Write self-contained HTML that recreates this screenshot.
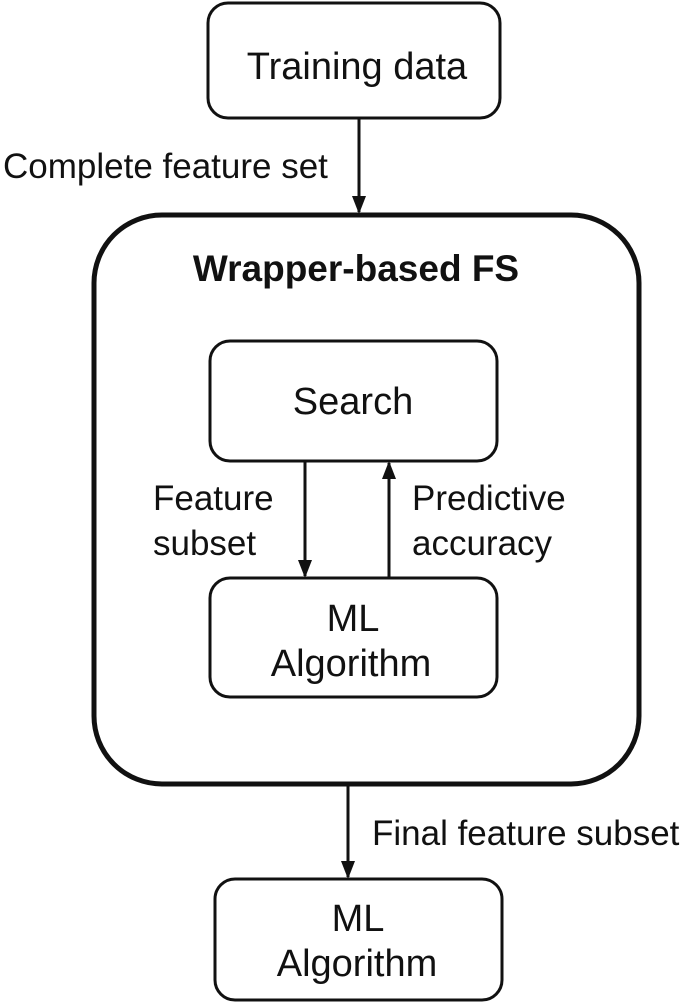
<!DOCTYPE html>
<html><head><meta charset="utf-8"><style>html,body{margin:0;padding:0;background:#fff}svg{display:block}</style></head>
<body>
<svg width="685" height="1004" viewBox="0 0 685 1004" xmlns="http://www.w3.org/2000/svg" font-family="Liberation Sans, Arial, sans-serif" fill="#111">
<defs><marker id="a" markerWidth="18" markerHeight="14" refX="16" refY="7" orient="auto" markerUnits="userSpaceOnUse"><path d="M0,0 L18,7 L0,14 z" fill="#111"/></marker></defs>
<g fill="none" stroke="#111">
<rect x="208" y="3" width="292" height="115" rx="20" stroke-width="3"/>
<rect x="94" y="215" width="545" height="569" rx="68" stroke-width="5"/>
<rect x="210" y="341" width="287" height="120" rx="20" stroke-width="3"/>
<rect x="210" y="578" width="287" height="119" rx="20" stroke-width="3"/>
<rect x="215" y="879" width="287" height="121" rx="20" stroke-width="3"/>
<line x1="359" y1="118" x2="359" y2="212" stroke-width="3" marker-end="url(#a)"/>
<line x1="305" y1="461" x2="305" y2="576" stroke-width="3" marker-end="url(#a)"/>
<line x1="389" y1="578" x2="389" y2="463" stroke-width="3" marker-end="url(#a)"/>
<line x1="348" y1="785" x2="348" y2="877" stroke-width="3" marker-end="url(#a)"/>
</g>
<g font-size="38" text-anchor="middle">
<text x="357" y="79">Training data</text>
<text x="353" y="414">Search</text>
<text x="353" y="631">ML</text>
<text x="351" y="676">Algorithm</text>
<text x="358" y="931">ML</text>
<text x="357" y="976">Algorithm</text>
<text x="356" y="281" font-weight="bold" font-size="37">Wrapper-based FS</text>
</g>
<g font-size="35">
<text x="3" y="178">Complete feature set</text>
<text x="153" y="510">Feature</text>
<text x="153" y="555">subset</text>
<text x="412" y="510">Predictive</text>
<text x="412" y="555">accuracy</text>
<text x="372" y="845">Final feature subset</text>
</g>
</svg>
</body></html>
